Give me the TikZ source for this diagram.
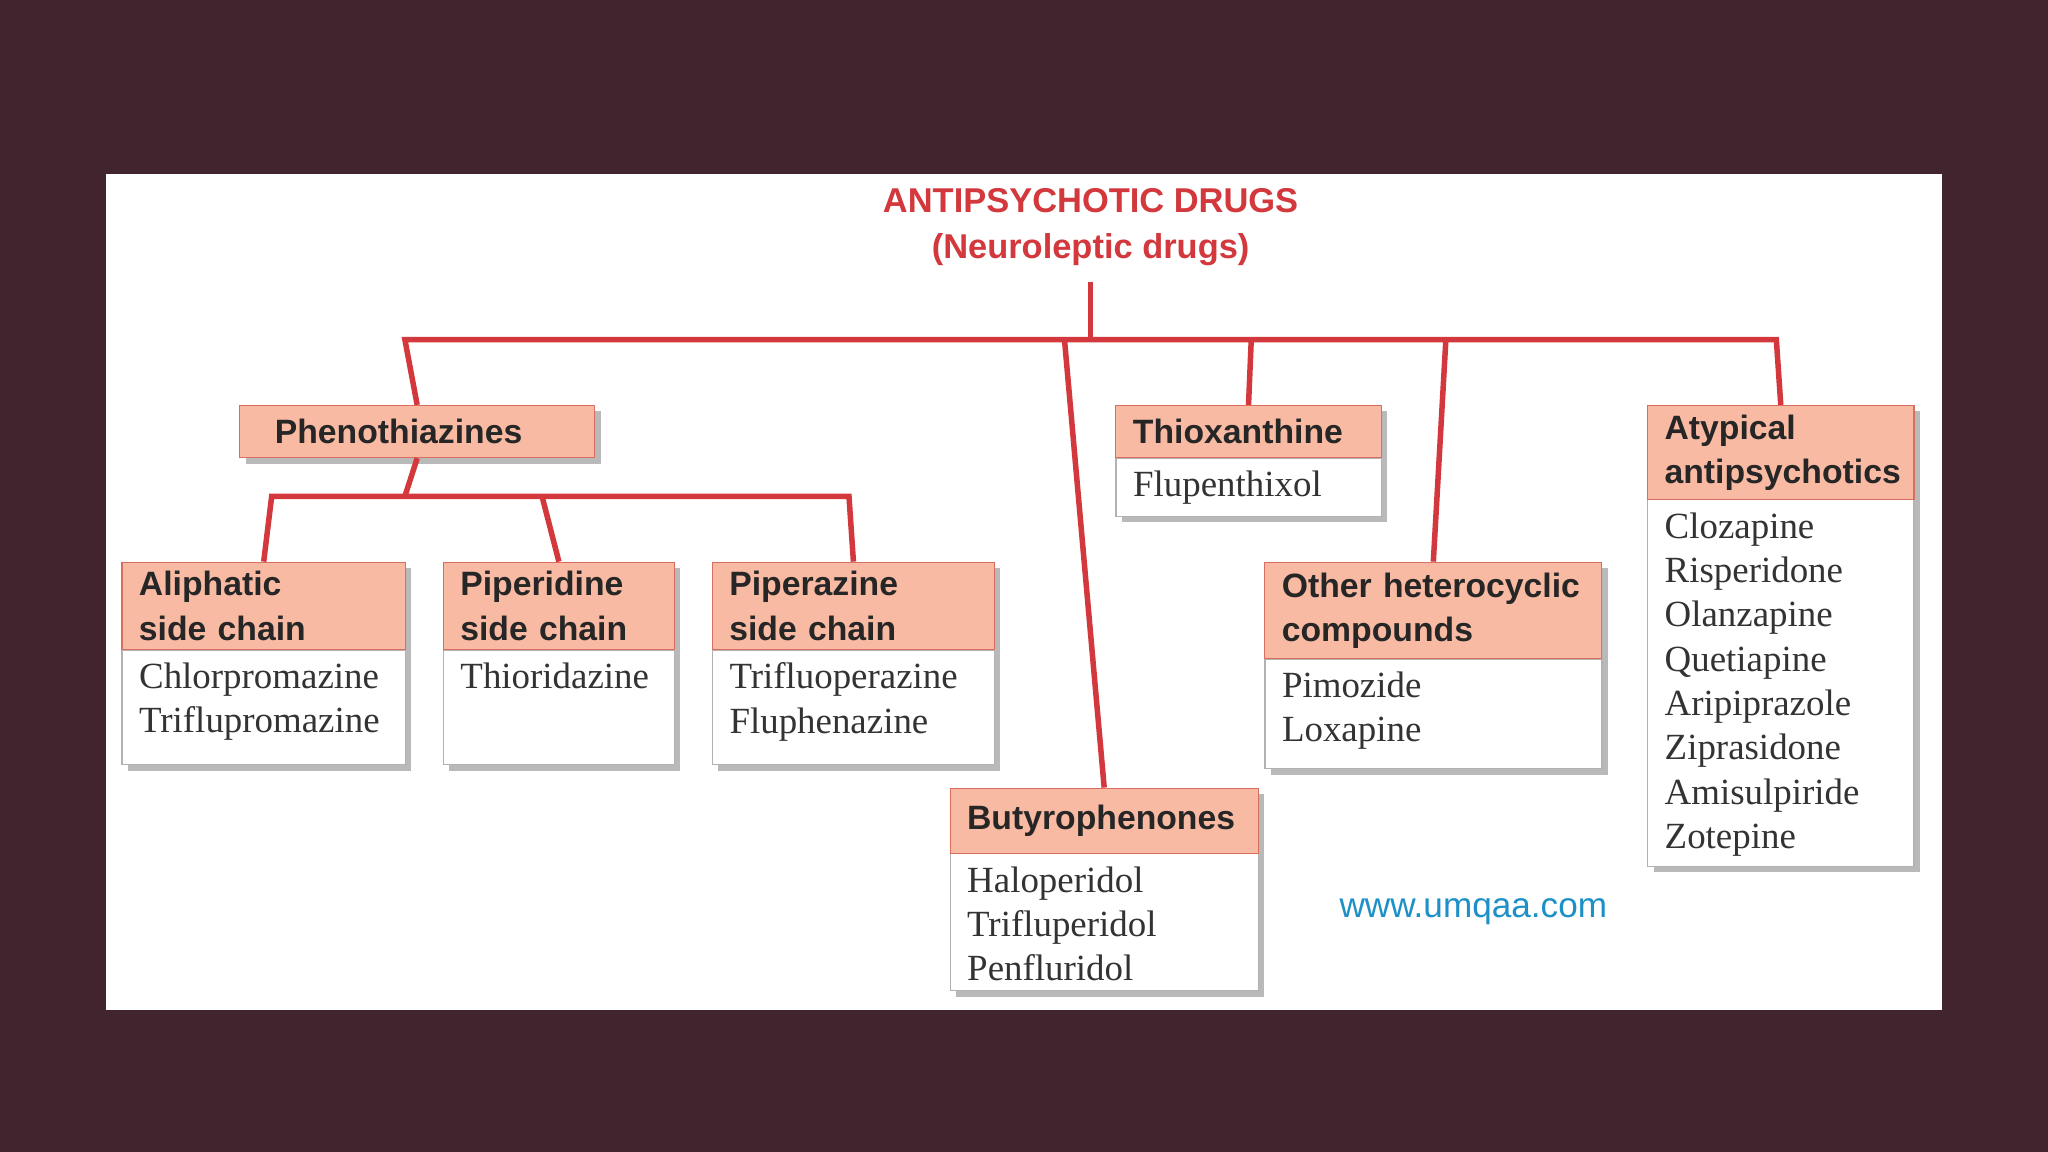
\documentclass[tikz,border=0pt]{standalone}
\usepackage{fontspec}
\setmainfont{Liberation Serif}
\newfontfamily\hsans{Liberation Sans}
\definecolor{bg}{HTML}{42242F}
\definecolor{rd}{HTML}{D2383C}
\definecolor{hf}{HTML}{F8BAA2}
\definecolor{hb}{HTML}{DA6E5E}
\definecolor{web}{HTML}{1E90C8}
\def\u{0.01306cm}
\tikzset{
 conn/.style={rd,line width=0.55mm},
 hdr/.style={draw=hb,fill=hf,line width=0.3pt,inner xsep=13*\u,inner ysep=0pt,align=left,font=\hsans\bfseries\fontsize{9.6}{12.6}\selectfont,text=black!85},
 body/.style={draw=gray!60,fill=white,line width=0.4pt,inner sep=0pt},
 btxt/.style={inner sep=0pt,align=left,font=\fontsize{10.5}{12.6}\selectfont,text=black!80},
 shd/.style={fill=gray!55}
}
\newcommand\drugbox[8]{%
 \fill[shd] (#2+5,#3+5) rectangle (#2+#6+5,#5+5);
 \node[body,minimum width=#6*\u,minimum height=(#5-#4)*\u,anchor=north west] (#1b) at (#2,#4) {};
 \node[hdr,minimum width=#6*\u,minimum height=(#4-#3)*\u,text width=(#6-26)*\u,anchor=north west] (#1) at (#2,#3) {#7};
 \node[btxt,anchor=north west] (#1t) at (#2+13,#4+10) {#8};
}
\begin{document}
\begin{tikzpicture}[x=\u,y=-\u]
\fill[bg] (0,0) rectangle (1568,882);
\fill[white] (81,133) rectangle (1487,773);
\useasboundingbox (0,0) rectangle (1568,882);
\node[inner sep=0pt,align=center,text=rd,font=\hsans\bfseries\fontsize{9.8}{13}\selectfont] (title) at (835,174) {ANTIPSYCHOTIC DRUGS\\(Neuroleptic drugs)};
% boxes
\fill[shd] (188,315) rectangle (460,355);
\node[hdr,minimum width=272*\u,minimum height=40*\u,text width=218*\u,anchor=north west,inner xsep=27*\u] (ph) at (183,310) {Phenothiazines};
\drugbox{al}{93}{430}{497}{585}{217}{Aliphatic\\side chain}{Chlorpromazine\\Triflupromazine}
\drugbox{pd}{339}{430}{497}{585}{177}{Piperidine\\side chain}{Thioridazine}
\drugbox{pz}{545}{430}{497}{585}{216}{Piperazine\\side chain}{Trifluoperazine\\Fluphenazine}
\drugbox{bu}{727}{603}{653}{758}{236}{Butyrophenones}{Haloperidol\\Trifluperidol\\Penfluridol}
\drugbox{tx}{854}{310}{350}{395}{203}{Thioxanthine}{Flupenthixol}
\drugbox{ot}{968}{430}{504}{588}{258}{Other heterocyclic\\compounds}{Pimozide\\Loxapine}
\drugbox{at}{1261}{310}{382}{663}{204}{Atypical\\antipsychotics}{Clozapine\\Risperidone\\Olanzapine\\Quetiapine\\Aripiprazole\\Ziprasidone\\Amisulpiride\\Zotepine}
\node[text=web,inner sep=0pt,font=\hsans\fontsize{10}{12}\selectfont] (web) at (1128,698) {www.umqaa.com};
% connectors
\coordinate (top) at (835,260);
\draw[conn] (835,216) -- (top);
\draw[conn] (ph.north) -- (310,260) -- (1360,260) -- (at.north);
\draw[conn] (815,260) -- (bu.north);
\draw[conn] (958,260) -- (tx.north);
\draw[conn] (1107,260) -- (ot.north);
\draw[conn] (ph.south) -- (310,380);
\draw[conn] (al.north) -- (208,380) -- (650,380) -- (pz.north);
\draw[conn] (415,380) -- (pd.north);
\end{tikzpicture}
\end{document}
